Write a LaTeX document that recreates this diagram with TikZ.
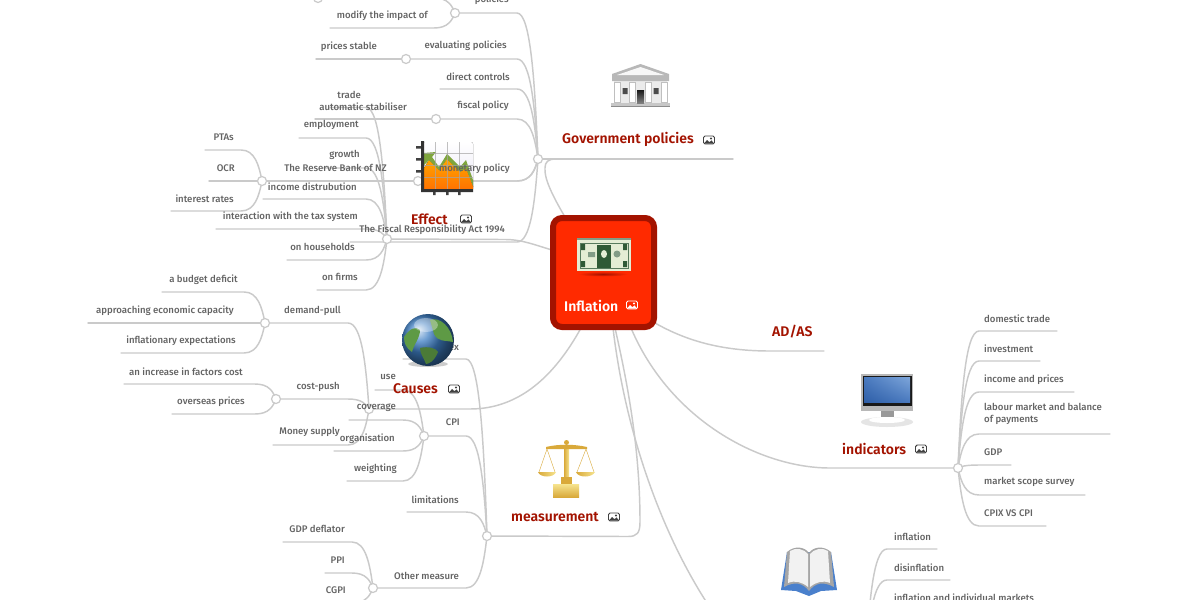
\documentclass[tikz,border=0pt]{standalone}
\usepackage{fontspec}
\setmainfont{Fira Sans Medium}
\newfontfamily\hf{Fira Sans SemiBold}
\usetikzlibrary{calc,backgrounds,shadings}
\definecolor{lineg}{HTML}{CACACA}
\definecolor{txt}{HTML}{636363}
\definecolor{tred}{HTML}{A31300}
\definecolor{boxd}{HTML}{A31300}
\definecolor{boxr}{HTML}{FF2A00}
\definecolor{monA}{HTML}{2F5FA8}
\definecolor{monB}{HTML}{7EA6DA}
\definecolor{monC}{HTML}{4A7ABF}
\definecolor{bookb}{HTML}{4A80CC}
\definecolor{chg}{HTML}{7FA53D}
\definecolor{chgrid}{HTML}{E9E7F5}
\definecolor{oceanc}{HTML}{3F7FC4}
\definecolor{landc}{HTML}{5E9A45}
\definecolor{golda}{HTML}{D9A93A}
\definecolor{goldb}{HTML}{F6E48F}
\definecolor{billg}{HTML}{2F5A35}
\definecolor{billp}{HTML}{E4EDD4}
\pgfdeclarelayer{bg}
\pgfsetlayers{bg,main}
\tikzset{
  conn/.style={draw=lineg,line width=1.45pt,line cap=round},
  hubdot/.style={circle,draw=lineg,fill=white,line width=1.2pt,minimum size=9pt,inner sep=0pt},
  lab/.style={text=txt,font=\fontsize{9.6}{11.8}\selectfont,inner sep=0pt,align=left},
  head/.style={text=tred,font=\hf\fontsize{14}{16}\selectfont,inner sep=0pt},
}
% curve from a point to a hub; #3 = 1 when the point lies left of the hub, -1 when right
\newcommand{\linkto}[3]{%
  \begin{pgfonlayer}{bg}
  \draw[conn] let \p1=(#2.center),\p2=(#1) in (#1) -- ({\x1-#3*21pt},\y2)
    .. controls ({\x1-#3*7pt},\y2) and ({\x1-#3*3pt},{0.5*(\y1+\y2)}) .. (#2.center);
  \end{pgfonlayer}}
% leaf left of hub: name,text,text right x,line left x,line y,hub
\newcommand{\leafL}[6]{%
  \node[lab,anchor=east] (#1) at (#3,{#5-12.7}) {#2};
  \coordinate (#1e) at (#4,#5);
  \linkto{#1e}{#6}{1}}
% leaf right of hub: name,text,text left x,line right x,line y,hub
\newcommand{\leafR}[6]{%
  \node[lab,anchor=west] (#1) at (#3,{#5-12.7}) {#2};
  \coordinate (#1e) at (#4,#5);
  \linkto{#1e}{#6}{-1}}
% small picture marker
\newcommand{\picmark}[3]{%
  \begin{scope}[shift={(#1,#2)}]
    \draw[#3,line width=.9pt,rounded corners=1.6pt] (-5.5,-4) rectangle (5.5,4);
    \fill[#3] (-5,3.6) -- (-2,0) -- (0.5,2.2) -- (2.5,.3) -- (5,3.6) -- cycle;
    \fill[#3] (2,-1.5) circle (1.1);
  \end{scope}}
\begin{document}
\begin{tikzpicture}[x=1pt,y=-1pt]
\useasboundingbox (0,0) rectangle (1200,600);
\clip (0,0) rectangle (1200,600);
\begin{pgfonlayer}{bg}
\fill[white] (0,0) rectangle (1200,600);
\end{pgfonlayer}

% hubs
\node[hubdot] (gp) at (538,159) {};
\node[hubdot] (pol) at (455,13) {};
\node[hubdot] (modtop) at (318,-2) {};
\node[hubdot] (evalh) at (406,59) {};
\node[hubdot] (fisc) at (436,119) {};
\node[hubdot] (mon) at (418,181) {};
\node[hubdot] (rbnz) at (262,181) {};
\node[hubdot] (eff) at (387,239) {};
\node[hubdot] (cau) at (369,409) {};
\node[hubdot] (dem) at (265,323) {};
\node[hubdot] (cost) at (276,399) {};
\node[hubdot] (mea) at (487,536) {};
\node[hubdot] (cpi) at (424,436) {};
\node[hubdot] (oth) at (373,588) {};
\node[hubdot] (ind) at (958,468) {};
\coordinate (bookh) at (866,660);

% central box
\node[draw=boxd,fill=boxr,line width=6pt,rounded corners=9pt,minimum width=101pt,minimum height=109pt,inner sep=0pt] (root) at (603.5,272.5) {};

% connectors to the root
\coordinate (gpend) at (733,159);
\coordinate (adend) at (824,351);
\begin{pgfonlayer}{bg}
\draw[conn] (gp.center) -- (gpend);
\draw[conn] (565,217) .. controls (552,195) and (544,178) .. (545,168) .. controls (545,162) and (548,159) .. (556,159);
\draw[conn] (eff.center) -- (505,239.5) .. controls (522,239.5) and (535,245) .. (552,250);
\draw[conn] (cau.center) -- (470,409) .. controls (520,409) and (555,375) .. (581,328);
\draw[conn] (mea.center) -- (628,536.5) .. controls (637,536.5) and (640,533) .. (640,522) .. controls (640,450) and (628,385) .. (615,328);
\draw[conn] (ind.center) -- (830,468) .. controls (760,468) and (670,420) .. (631,328);
\draw[conn] (655,323) .. controls (685,340) and (720,351) .. (770,351) -- (adend);
\draw[conn] (613,328) .. controls (625,430) and (660,530) .. (707,603);
\end{pgfonlayer}

% first level of links
\linkto{pol}{gp}{1}
\linkto{evalh}{gp}{1}
\linkto{fisc}{gp}{1}
\linkto{mon}{gp}{1}
\linkto{modtop}{pol}{1}
\begin{pgfonlayer}{bg}\draw[conn] (rbnz.center) -- (mon.center);\end{pgfonlayer}
\linkto{dem}{cau}{1}
\linkto{cost}{cau}{1}
\linkto{cpi}{mea}{1}
\linkto{oth}{mea}{1}

% chart icon
\begin{scope}[shift={(416,142)}]
  \fill[rounded corners=2pt,top color=white,bottom color=chgrid] (7,0) rectangle (57,47);
  \fill[top color=orange!70!yellow,bottom color=orange!90!red] (8,47) -- (8,26) -- (13,18) -- (23,28) -- (31,17) -- (44,30) -- (50,26) -- (57,44) -- (57,47) -- cycle;
  \fill[chg] (6,25) -- (8,11) -- (20,10) -- (16,15) -- (23,25) -- (31,12) -- (44,25) -- (50,18) -- (57,38) -- (57,44) -- (50,26) -- (44,30) -- (31,17) -- (23,28) -- (13,18) -- cycle;
  \foreach \x in {19,31,43} \draw[black!35,line width=.6pt,opacity=.7] (\x,0) -- (\x,47);
  \foreach \y in {11,23,35} \draw[black!35,line width=.6pt,opacity=.7] (7,\y) -- (57,\y);
  \fill[black!80] (5,-1) rectangle (8,50) (5,47) rectangle (57,50);
  \fill[black!75] (0,4) rectangle (5,6.5) (0,16) rectangle (5,18.5) (0,28) rectangle (5,30.5);
  \fill[black!75] (17,50) rectangle (19.5,53) (30,50) rectangle (32.5,53) (42,50) rectangle (44.5,53);
\end{scope}

% Government policies
\leafL{monpol}{monetary policy}{510}{418}{181}{gp}
\node[lab,anchor=east] (policies) at (509,0) {policies};
\node[lab,anchor=east] (evalp) at (507,45.5) {evaluating policies};
\leafL{dirc}{direct controls}{510}{440}{89}{gp}
\node[lab,anchor=east] (fiscl) at (509,106) {fiscal policy};
\leafL{fra}{The Fiscal Responsibility Act 1994}{505}{350}{242}{gp}
\leafL{mod}{modify the impact of}{428}{330}{28}{pol}
\leafL{ps}{prices stable}{377}{316}{59}{evalh}
\leafL{auto}{automatic stabiliser}{407}{315}{119}{fisc}
\node[lab,anchor=east] (rb) at (387,167.5) {The Reserve Bank of NZ};
\leafL{ptas}{PTAs}{234}{205}{150}{rbnz}
\leafL{ocr}{OCR}{235}{209}{181}{rbnz}
\leafL{ir}{interest rates}{234}{171}{211}{rbnz}

% Effect
\leafL{trade}{trade}{361}{330}{107.5}{eff}
\leafL{empl}{employment}{359}{299}{138}{eff}
\leafL{grow}{growth}{360}{322}{168}{eff}
\leafL{incd}{income distrubution}{357}{263}{199}{eff}
\leafL{tax}{interaction with the tax system}{358}{216}{229}{eff}
\leafL{hh}{on households}{355}{287}{260}{eff}
\leafL{firm}{on firms}{358}{317}{290}{eff}

% Causes
\node[lab,anchor=east] (dempull) at (341,310.5) {demand-pull};
\node[lab,anchor=east] (costp) at (340,386.5) {cost-push};
\leafL{bud}{a budget deficit}{238}{162}{292}{dem}
\leafL{app}{approaching economic capacity}{234}{88}{323}{dem}
\leafL{infx}{inflationary expectations}{236}{121}{353}{dem}
\leafL{fact}{an increase in factors cost}{243}{124}{384}{cost}
\leafL{over}{overseas prices}{245}{172}{414}{cost}
\leafL{mons}{Money supply}{340}{273}{445}{cau}

% measurement
\leafL{index}{index}{459}{403}{359}{mea}
\node[lab,anchor=east] (cpil) at (460,422.5) {CPI};
\node[lab,anchor=east] (othl) at (459,575.5) {Other measure};
\leafL{lim}{limitations}{459}{407}{512}{mea}
\leafL{use}{use}{396}{375}{390}{cpi}
\leafL{covg}{coverage}{396}{349}{420}{cpi}
\leafL{orgn}{organisation}{395}{334}{451}{cpi}
\leafL{wgt}{weighting}{397}{347}{481}{cpi}
\leafL{gdpd}{GDP deflator}{345}{283}{542}{oth}
\leafL{ppi}{PPI}{345}{325}{573}{oth}
\leafL{cgpi}{CGPI}{346}{318}{603}{oth}

% indicators
\leafR{dom}{domestic trade}{984}{1057}{331}{ind}
\leafR{inv}{investment}{984}{1040}{361}{ind}
\leafR{inc}{income and prices}{984}{1074}{392}{ind}
\node[lab,anchor=north west] (lab) at (984,403.5) {labour market and balance\\of payments};
\coordinate (labe) at (1110,434);
\linkto{labe}{ind}{-1}
\leafR{gdp}{GDP}{984}{1011}{465}{ind}
\leafR{mkt}{market scope survey}{984}{1085}{495}{ind}
\leafR{cpix}{CPIX VS CPI}{984}{1046}{526}{ind}

% book node leaves
\leafR{infl}{inflation}{894}{937}{549}{bookh}
\leafR{disi}{disinflation}{894}{950}{580}{bookh}
\leafR{indm}{inflation and individual markets}{894}{1040}{610}{bookh}

% headings
\node[head,anchor=west] (tgp) at (562,139.7) {Government policies};
\picmark{709}{140}{black!75}
\node[head,anchor=west] (teff) at (411,219) {Effect};
\picmark{466}{219}{black!75}
\node[head,anchor=west] (tcau) at (393,388.7) {Causes};
\picmark{454}{389}{black!75}
\node[head,anchor=west] (tmea) at (511,516.7) {measurement};
\picmark{614}{517}{black!75}
\node[head,anchor=west] (tind) at (842,448.7) {indicators};
\picmark{921}{449}{black!75}
\node[head,anchor=west] (tad) at (772,331.7) {AD/AS};
\node[head,text=white,anchor=west] (tinf) at (564,305.5) {Inflation};
\picmark{632}{305}{white}

% money icon
\begin{scope}[shift={(576,238)}]
  \shade[inner color=boxd,outer color=boxr] (27,36) ellipse (25 and 2.5);
  \fill[billg!60] (1,0) rectangle (55,33);
  \fill[billp] (1,2) rectangle (55,33);
  \draw[billg!80,line width=1pt] (4,5) rectangle (52,30);
  \fill[billg] (21,7) rectangle (35,30);
  \fill[billp] (28,16) ellipse (3 and 4);
  \fill[billg] (5,6) rectangle (9,12) (47,6) rectangle (51,12) (5,23) rectangle (9,29) (47,23) rectangle (51,29);
  \fill[billg!60] (12,14) rectangle (19,19) (41,16) circle (3.5);
\end{scope}

% building icon
\begin{scope}[shift={(611,64)}]
  \fill[black!22] (0,39) rectangle (59,43);
  \fill[black!45] (0,41.5) rectangle (59,43);
  \fill[black!8] (3,17) rectangle (56,39);
  \fill[black!28] (1,10) -- (29.5,0) -- (58,10) -- (58,17) -- (1,17) -- cycle;
  \fill[black!3] (6,11) -- (29.5,3) -- (53,11) -- cycle;
  \foreach \x in {3,18,34,50} {\fill[white] (\x,18) rectangle (\x+6,38); \draw[black!25,line width=.4pt] (\x,18) rectangle (\x+6,38);}
  \fill[black!70] (11.5,24) rectangle (16.5,30) (42.5,24) rectangle (47.5,30);
  \shade[top color=black!90,bottom color=black!50] (26,26) rectangle (33,39);
\end{scope}

% scales icon
\begin{scope}[shift={(538,440)},golda]
  \shade[left color=golda,right color=goldb] (26,5) rectangle (31,42);
  \fill (28.5,2.5) circle (2.5);
  \fill (8,7) .. controls (20,4) and (36,4) .. (49,7) -- (49,9) -- (8,9) -- cycle;
  \draw[line width=.4pt] (9,9) -- (1,32) (9,9) -- (17,32) (48,9) -- (39,32) (48,9) -- (56,32);
  \shade[left color=golda,right color=goldb] (0,32) .. controls (2,38) and (16,38) .. (18,32) -- cycle;
  \shade[left color=golda,right color=goldb] (38,32) .. controls (40,38) and (54,38) .. (57,32) -- cycle;
  \fill (23,37) rectangle (34,44);
  \shade[top color=goldb,bottom color=golda] (15,44) rectangle (41,57);
\end{scope}

% monitor icon
\begin{scope}[shift={(861,374)}]
  \fill[black!10] (26,48) ellipse (26 and 5);
  \fill[black!40] (20,36) rectangle (33,45);
  \fill[white] (26,46) ellipse (18 and 3);
  \fill[black!28] (0,0) rectangle (52,37);
  \fill[black!90] (1.5,1.5) rectangle (50.5,32);
  \shade[lower left=monA,upper right=monB,lower right=monC,upper left=monC] (3,3) rectangle (49,28);
\end{scope}

% book icon
\begin{scope}[shift={(781,547)}]
  \fill[bookb] (0,43) -- (6,5) -- (50,5) -- (56,43) -- (40,44) -- (28,49) -- (15,44) -- cycle;
  \fill[black!35] (3,40) -- (6,5) .. controls (14,-2) and (24,0) .. (28,6) .. controls (32,0) and (42,-2) .. (50,5) -- (53,40) .. controls (42,34) and (34,36) .. (28,44) .. controls (22,36) and (14,34) .. (3,40) -- cycle;
  \fill[black!5] (7,36) -- (9,4) .. controls (15,0) and (23,2) .. (27,7) -- (27,40) .. controls (21,35) and (14,33) .. (7,36) -- cycle;
  \fill[black!5] (49,36) -- (47,4) .. controls (41,0) and (33,2) .. (29,7) -- (29,40) .. controls (35,35) and (42,33) .. (49,36) -- cycle;
\end{scope}

% globe icon (hides the start of the index label)
\begin{scope}[shift={(428,340)}]
  \fill[black!20] (0,24) ellipse (20 and 3);
  \shade[ball color=oceanc] (0,0) circle (26);
  \fill[landc] (-24,-3) .. controls (-18,-12) and (-12,-14) .. (-8,-10) .. controls (-8,-2) and (-14,4) .. (-16,12) .. controls (-22,8) and (-24,3) .. (-24,-3) -- cycle;
  \fill[landc] (2,-20) .. controls (12,-24) and (24,-12) .. (25,2) .. controls (16,0) and (10,2) .. (6,-6) -- cycle;
  \fill[landc!80!black] (-8,8) .. controls (0,6) and (8,8) .. (10,12) .. controls (6,22) and (0,24) .. (-2,24) .. controls (-4,18) and (-8,14) .. (-8,8) -- cycle;
  \fill[white,opacity=.35] (-2,-15) ellipse (12 and 7);
\end{scope}
\end{tikzpicture}
\end{document}
